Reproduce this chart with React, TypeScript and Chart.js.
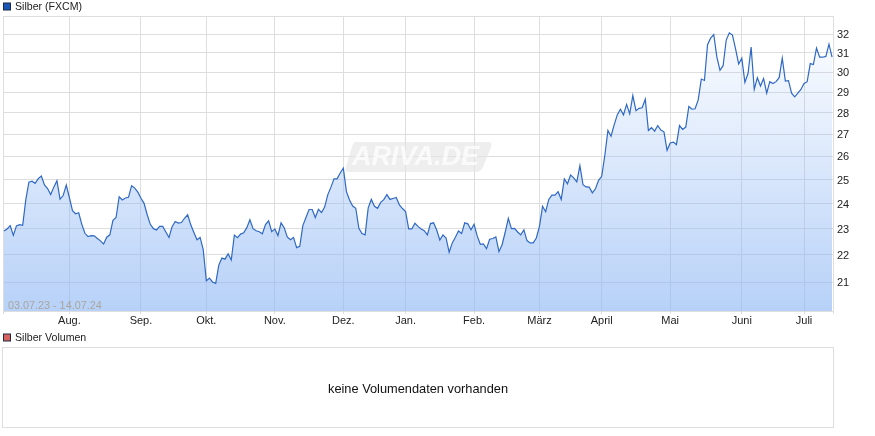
import React, { useEffect, useRef } from "react";
import { Chart, registerables } from "chart.js";

Chart.register(...registerables);

const seriesName = "Silber (FXCM)";
const volumeName = "Silber Volumen";
const emptyText = "keine Volumendaten vorhanden";
const rangeText = "03.07.23 - 14.07.24";
const watermark = "ARIVA.DE";

const priceValues: number[] = [
  22.91, 22.99, 23.12, 22.74, 23.11, 23.16, 23.13, 24.15, 24.89, 24.93, 24.84, 25.04, 25.15, 24.77, 24.62, 24.37, 24.68, 24.95, 24.18, 24.33, 24.77, 24.25, 23.71, 23.59, 23.63, 23.17, 22.82, 22.69, 22.73, 22.72, 22.62, 22.53, 22.41, 22.67, 22.76, 23.33, 23.44, 24.28,
  24.15, 24.23, 24.26, 24.74, 24.64, 24.47, 24.22, 24.01, 23.55, 23.17, 23.0, 22.95, 23.09, 23.09, 22.87, 22.66, 23.08, 23.28, 23.22, 23.24, 23.41, 23.55, 23.15, 22.85, 22.57, 22.66, 22.2, 21.05, 21.15, 21.01, 20.96, 21.62, 21.88, 21.84, 22.04, 21.81, 22.75, 22.65, 22.79,
  22.84, 23.04, 23.35, 23.0, 22.92, 22.88, 22.8, 23.16, 23.31, 22.88, 22.99, 22.73, 23.23, 23.04, 22.68, 22.57, 22.66, 22.27, 22.32, 23.12, 23.44, 23.76, 23.76, 23.44, 23.77, 23.64, 23.86, 24.36, 24.67, 25.03, 25.03, 25.28, 25.49, 24.49, 24.15, 23.9, 23.81, 23.01,
  22.81, 22.76, 23.83, 24.17, 23.89, 23.81, 24.05, 24.16, 24.37, 24.17, 24.21, 24.25, 23.95, 23.8, 23.68, 22.99, 22.99, 23.21, 23.09, 22.99, 22.92, 22.76, 23.2, 23.23, 22.95, 22.56, 22.76, 22.64, 22.1, 22.45, 22.67, 22.91, 22.81, 23.23, 23.19, 22.96, 23.17, 22.72, 22.4,
  22.41, 22.23, 22.59, 22.62, 22.68, 22.12, 22.38, 22.86, 23.41, 23.0, 23.01, 22.87, 22.76, 22.95, 22.54, 22.45, 22.45, 22.64, 23.09, 23.89, 23.67, 24.17, 24.35, 24.35, 24.49, 24.17, 25.03, 24.82, 25.19, 25.07, 24.9, 25.6, 24.78, 24.69, 24.68, 24.44, 24.61, 24.97,
  25.14, 26.04, 27.17, 26.91, 27.43, 27.9, 28.17, 27.9, 28.4, 27.95, 28.83, 28.1, 28.21, 28.24, 28.65, 27.17, 27.3, 27.14, 27.4, 27.19, 27.11, 26.27, 26.6, 26.64, 26.53, 27.4, 27.22, 27.33, 28.3, 28.17, 28.19, 28.62, 29.65, 29.58, 31.43, 31.78, 31.97, 30.78, 30.09,
  30.33, 31.68, 32.07, 31.95, 31.21, 30.42, 30.72, 29.48, 29.93, 31.3, 29.13, 29.72, 29.3, 29.68, 28.95, 29.52, 29.43, 29.52, 29.72, 30.72, 29.55, 29.57, 28.95, 28.77, 28.95, 29.13, 29.43, 29.52, 30.44, 30.39, 31.25, 30.77, 30.77, 30.81, 31.46, 30.77,
];

const monthLabels = ["Aug.", "Sep.", "Okt.", "Nov.", "Dez.", "Jan.", "Feb.", "März", "April", "Mai", "Juni", "Juli"];
const monthStartIndex = [21, 44, 65, 87, 109, 129, 151, 172, 192, 214, 237, 257];
const priceTicks = [21, 22, 23, 24, 25, 26, 27, 28, 29, 30, 31, 32];
const priceMin = 20;
const priceMax = 33;

const FONT = '"Liberation Sans", Arial, sans-serif';
const GRID = "#dedede";

function drawKey(ctx: CanvasRenderingContext2D, y: number, fill: string, label: string) {
  ctx.fillStyle = fill;
  ctx.strokeStyle = "#1b2a44";
  ctx.lineWidth = 1;
  ctx.fillRect(3.5, y + 0.5, 7, 7);
  ctx.strokeRect(3.5, y + 0.5, 7, 7);
  ctx.fillStyle = "#222";
  ctx.font = `10.6px ${FONT}`;
  ctx.textAlign = "left";
  ctx.textBaseline = "middle";
  ctx.fillText(label, 15, y + 5);
}

const watermarkPlugin = {
  id: "watermark",
  beforeDatasetsDraw(chart: any) {
    const ctx: CanvasRenderingContext2D = chart.ctx;
    ctx.save();
    ctx.beginPath();
    ctx.moveTo(356, 142);
    ctx.lineTo(488, 142);
    ctx.quadraticCurveTo(493, 142, 491, 147);
    ctx.lineTo(483, 167);
    ctx.quadraticCurveTo(481, 172, 476, 172);
    ctx.lineTo(350, 172);
    ctx.quadraticCurveTo(344, 172, 346, 167);
    ctx.lineTo(352, 147);
    ctx.quadraticCurveTo(353, 142, 356, 142);
    ctx.closePath();
    ctx.fillStyle = "rgba(228,228,228,0.62)";
    ctx.fill();
    ctx.fillStyle = "rgba(255,255,255,0.75)";
    ctx.font = `italic bold 27px ${FONT}`;
    ctx.textAlign = "left";
    ctx.textBaseline = "middle";
    ctx.fillText(watermark, 352, 158);
    ctx.restore();
  },
};

const panelPlugin = {
  id: "panels",
  afterDraw(chart: any) {
    const ctx: CanvasRenderingContext2D = chart.ctx;
    ctx.save();
    drawKey(ctx, 2.5, "#1a56b4", seriesName);
    drawKey(ctx, 333.5, "#d8625f", volumeName);

    ctx.fillStyle = "#a8a69e";
    ctx.font = `10.8px ${FONT}`;
    ctx.textAlign = "left";
    ctx.textBaseline = "middle";
    ctx.fillText(rangeText, 8, 306);

    ctx.strokeStyle = GRID;
    ctx.lineWidth = 1;
    ctx.strokeRect(2.5, 347.5, 831, 80);
    ctx.fillStyle = "#111";
    ctx.font = `12.8px ${FONT}`;
    ctx.textAlign = "center";
    ctx.fillText(emptyText, 418, 389);
    ctx.restore();
  },
};

export default function App() {
  const ref = useRef<HTMLCanvasElement | null>(null);

  useEffect(() => {
    if (!ref.current) return;
    const chart = new Chart(ref.current, {
      type: "line",
      data: {
        datasets: [
          {
            label: seriesName,
            data: priceValues.map((y, x) => ({ x, y })),
            borderColor: "#2f69c4",
            borderWidth: 1.2,
            pointRadius: 0,
            tension: 0,
            fill: "start",
            backgroundColor: (c: any) => {
              const area = c.chart.chartArea;
              if (!area) return "rgba(141,182,244,0.5)";
              const g = c.chart.ctx.createLinearGradient(0, area.top, 0, area.bottom);
              g.addColorStop(0, "rgba(141,182,244,0)");
              g.addColorStop(1, "rgba(141,182,244,0.63)");
              return g;
            },
          },
        ],
      },
      plugins: [watermarkPlugin, panelPlugin],
      options: {
        responsive: false,
        animation: false,
        devicePixelRatio: 1,
        layout: { padding: { left: 3, top: 16, right: 0, bottom: 0 } },
        plugins: { legend: { display: false }, tooltip: { enabled: false }, title: { display: false } },
        scales: {
          x: {
            type: "linear",
            min: -0.32,
            max: 266.3,
            border: { display: false },
            grid: { color: GRID, lineWidth: 1, tickLength: 3, tickColor: GRID },
            afterBuildTicks: (s: any) => {
              s.ticks = [-0.32, ...monthStartIndex, 266.3].map((value) => ({ value }));
            },
            afterFit: (s: any) => {
              s.height = 125;
            },
            ticks: {
              autoSkip: false,
              maxRotation: 0,
              padding: 0,
              color: "#222",
              font: { family: FONT, size: 11 },
              callback: (v: any) => {
                const i = monthStartIndex.indexOf(v);
                return i >= 0 ? monthLabels[i] : "";
              },
            },
          },
          y: {
            type: "logarithmic",
            position: "right",
            min: priceMin,
            max: priceMax,
            border: { display: false },
            grid: { color: GRID, lineWidth: 1, drawTicks: false },
            afterBuildTicks: (s: any) => {
              s.ticks = [priceMin, ...priceTicks, priceMax].map((value) => ({ value }));
            },
            afterFit: (s: any) => {
              s.width = 42;
            },
            ticks: {
              autoSkip: false,
              padding: 4,
              labelOffset: 1,
              color: "#222",
              font: { family: FONT, size: 11 },
              callback: (v: any) => (priceTicks.includes(v) ? String(v) : ""),
            },
          },
        },
      },
    } as any);
    return () => chart.destroy();
  }, []);

  return (
    <canvas
      ref={ref}
      width={875}
      height={436}
      style={{ position: "absolute", left: 0, top: 0, width: 875, height: 436, display: "block" }}
    />
  );
}
